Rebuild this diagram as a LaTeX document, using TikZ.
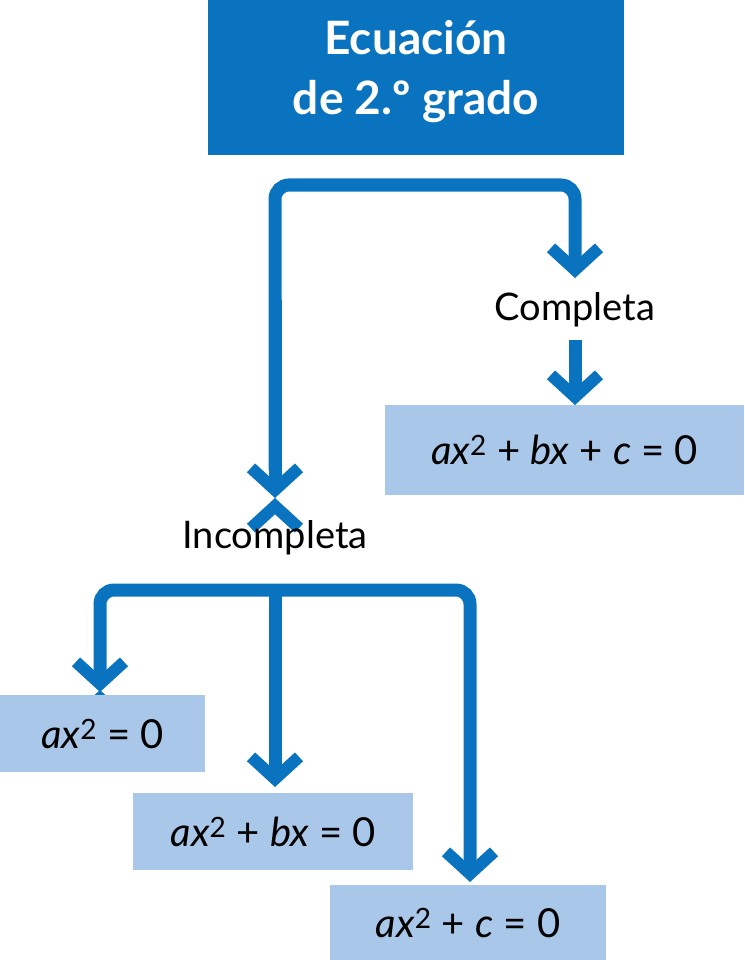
\documentclass[tikz,border=0pt]{standalone}
\usepackage{fontspec}
\setmainfont{Lato}
\usetikzlibrary{arrows.meta}
\definecolor{dblue}{HTML}{0A73BF}
\definecolor{lblue}{HTML}{A9C7E8}
\begin{document}
\begin{tikzpicture}[x=1pt,y=-1pt,
  conn/.style={draw=dblue,line width=13pt,rounded corners=14pt,-{Straight Barb[length=22pt,width=48pt,line width=12pt]}},
  eqbox/.style={fill=lblue,anchor=north west,inner sep=0pt,font=\fontsize{40}{44}\selectfont},
  lbl/.style={font=\fontsize{38}{44}\selectfont}]
\useasboundingbox (0,0) rectangle (744,960);
\fill[dblue] (208,0) rectangle (624,155);
\node[text=white,font=\bfseries\fontsize{46}{60}\selectfont,align=center] (title) at (416,72) {Ecuación\\de 2.º grado};
\coordinate (j1) at (275,185);
\coordinate (a1) at (275,498);
\coordinate (a2) at (575,278);
\draw[conn] (a1|-j1) ++(0,0) coordinate (s) (a1) ++(0,0);
\draw[conn] (275,470) -- (j1) -- (575,185) -- (a2);
\draw[conn,rounded corners=0pt] (275,300) -- (a1);
\node[lbl] (comp) at (575,310) {Completa};
\draw[conn] (575,340) -- (575,405);
\node[eqbox,minimum width=359pt,minimum height=90pt] (e1) at (385,405) {};
\node[font=\fontsize{40}{44}\selectfont] at (e1.center) {\itshape ax\textsuperscript{\upshape 2}\upshape{} + \itshape bx\upshape{} + \itshape c\upshape{} = 0};
\node[lbl] (inc) at (275,538) {Incompleta};
\coordinate (j2) at (275,590);
\draw[conn] (275,592) -- (275,595) (100,690) ;
\draw[conn] (275,590) -- (100,590) -- (100,692);
\draw[conn] (275,590) -- (470,590) -- (470,882);
\draw[conn] (275,590) -- (275,787);
\node[eqbox,minimum width=205pt,minimum height=77pt] (e2) at (0,695) {};
\node[font=\fontsize{40}{44}\selectfont] at (e2.center) {\itshape ax\textsuperscript{\upshape 2}\upshape{} = 0};
\node[eqbox,minimum width=280pt,minimum height=77pt] (e3) at (133,793) {};
\node[font=\fontsize{40}{44}\selectfont] at (e3.center) {\itshape ax\textsuperscript{\upshape 2}\upshape{} + \itshape bx\upshape{} = 0};
\node[eqbox,minimum width=276pt,minimum height=75pt] (e4) at (330,885) {};
\node[font=\fontsize{40}{44}\selectfont] at (e4.center) {\itshape ax\textsuperscript{\upshape 2}\upshape{} + \itshape c\upshape{} = 0};
\end{tikzpicture}
\end{document}
